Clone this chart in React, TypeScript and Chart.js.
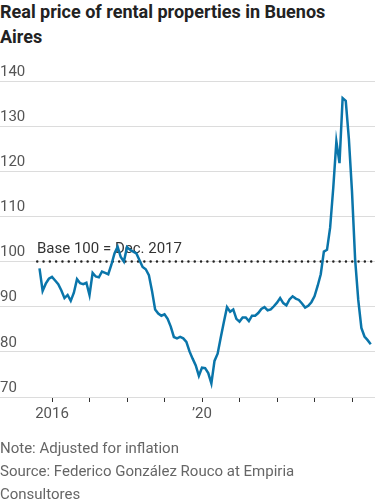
import React, { useEffect, useRef } from "react";
import { Chart, registerables } from "chart.js";

Chart.register(...registerables);

// Monthly series, Sep 2015 onwards (index = real rent price, Dec 2017 = 100)
const firstYear = 2015;
const firstMonth = 9;
const values: number[] = [
  98.5, 93.5, 95.1, 96.2,
  96.6, 95.8, 95.0, 93.6, 91.9, 92.6, 91.3, 93.1, 96.1, 95.2, 95.0, 95.3,
  92.6, 97.5, 96.7, 96.5, 97.8, 97.5, 97.2, 99.3, 101.8, 103.3, 101.0, 100.0,
  103.2, 102.6, 102.2, 101.8, 100.3, 98.8, 98.3, 97.0, 93.5, 89.4, 88.5, 88.0,
  88.3, 87.3, 85.6, 83.3, 83.0, 83.3, 83.0, 82.2, 80.1, 78.5, 77.0, 74.7,
  76.5, 76.4, 75.3, 73.0, 78.0, 79.6, 83.2, 86.6, 89.9, 88.9, 89.4, 87.3,
  86.7, 87.6, 87.6, 86.8, 88.0, 88.0, 88.6, 89.5, 89.9, 89.2, 89.4, 90.1,
  90.9, 91.9, 90.8, 90.3, 91.6, 92.3, 91.8, 91.5, 90.7, 89.8, 90.2, 91.0,
  92.3, 94.6, 97.2, 102.2, 102.6, 107.5, 116.3, 126.6, 121.8, 136.2, 135.6, 127.2,
  115.5, 100.5, 91.5, 85.3, 83.4, 82.6, 81.7,
];
const xTickYears: number[] = [2016, 2017, 2018, 2019, 2020, 2021, 2022, 2023, 2024];
const xTickLabels: Record<number, string> = { 2016: "2016", 2020: "\u201920" };
const yMin = 70;
const yMax = 140;
const yStep = 10;
const baseValue = 100;
const baseLabel = "Base 100 = Dec. 2017";
const xMin = 2014.6133;
const xMax = 2024.6133;

const title = ["Real price of rental properties in Buenos", "Aires"];
const notes = [
  "Note: Adjusted for inflation",
  "Source: Federico Gonz\u00e1lez Rouco at Empiria",
  "Consultores",
];

const FONT = "Roboto, 'Noto Sans', sans-serif";

export default function App() {
  const ref = useRef<HTMLCanvasElement | null>(null);

  useEffect(() => {
    document.body.style.margin = "0";
    const canvas = ref.current;
    if (!canvas) return;
    const points = values.map((v, i) => ({
      x: firstYear + (firstMonth - 1 + i) / 12,
      y: v,
    }));
    const basePoints = [
      { x: points[0].x - 0.06, y: baseValue },
      { x: xMax, y: baseValue },
    ];

    const annotation = {
      id: "baseLabel",
      beforeDatasetsDraw(chart: any) {
        const { ctx, scales } = chart;
        const y = scales.y.getPixelForValue(baseValue);
        ctx.save();
        ctx.font = `15px ${FONT}`;
        ctx.fillStyle = "#333";
        ctx.textBaseline = "alphabetic";
        ctx.textAlign = "left";
        ctx.fillText(baseLabel, 37, y - 8.5);
        ctx.restore();
      },
    };

    const chart = new Chart(canvas, {
      type: "line",
      data: {
        datasets: [
          {
            data: points,
            borderColor: "#0a75aa",
            borderWidth: 2.5,
            pointRadius: 0,
            tension: 0,
            order: 0,
          },
          {
            data: basePoints,
            borderColor: "#222",
            borderWidth: 2.5,
            borderDash: [0, 6.3],
            borderCapStyle: "round",
            pointRadius: 0,
            order: 1,
          },
        ],
      },
      options: {
        animation: false,
        responsive: false,
        maintainAspectRatio: false,
        layout: { padding: { top: 21, left: 0, right: 0, bottom: 0 } },
        plugins: { legend: { display: false }, tooltip: { enabled: false } },
        scales: {
          x: {
            type: "linear",
            min: xMin,
            max: xMax,
            afterBuildTicks: (s: any) => {
              s.ticks = xTickYears.map((v) => ({ value: v }));
            },
            afterFit: (s: any) => {
              s.height = 43;
            },
            grid: {
              display: true,
              drawOnChartArea: false,
              drawTicks: true,
              tickLength: 5,
              color: "#333",
            },
            border: { display: false },
            ticks: {
              autoSkip: false,
              maxRotation: 0,
              padding: 3,
              color: "#555",
              font: { family: FONT, size: 15 },
              callback: (v: any) => xTickLabels[Math.round(Number(v))] ?? "",
            },
          },
          y: {
            min: yMin,
            max: yMax,
            afterFit: (s: any) => {
              s.width = 0;
            },
            grid: { color: "#dcdcdc", drawTicks: false, lineWidth: 1 },
            border: { display: false },
            ticks: {
              stepSize: yStep,
              mirror: true,
              padding: 0,
              labelOffset: -9,
              color: "#555",
              font: { family: FONT, size: 15 },
            },
          },
        },
      },
      plugins: [annotation],
    });
    return () => chart.destroy();
  }, []);

  return (
    <div style={{ position: "relative", width: 375, height: 500, overflow: "hidden", fontFamily: FONT }}>
      <div
        style={{
          position: "absolute",
          left: 0,
          top: -1,
          fontSize: 18,
          fontWeight: 700,
          lineHeight: "25px",
          color: "#222",
          whiteSpace: "nowrap",
        }}
      >
        {title.map((t, i) => (
          <div key={i}>{t}</div>
        ))}
      </div>
      <canvas
        ref={ref}
        width={375}
        height={380}
        style={{ position: "absolute", left: 0, top: 60, width: 375, height: 380 }}
      />
      <div
        style={{
          position: "absolute",
          left: 0,
          top: 437,
          fontSize: 15,
          lineHeight: "23px",
          color: "#666",
          whiteSpace: "nowrap",
        }}
      >
        {notes.map((t, i) => (
          <div key={i}>{t}</div>
        ))}
      </div>
    </div>
  );
}
